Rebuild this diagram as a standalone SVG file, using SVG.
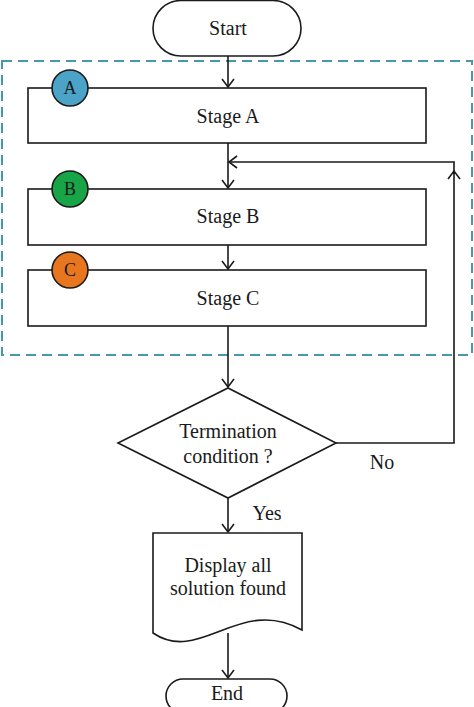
<svg xmlns="http://www.w3.org/2000/svg" width="474" height="707" viewBox="0 0 474 707">
<style>
.box{fill:#fff;stroke:#1a1a1a;stroke-width:1.6}
.t{font-family:"Liberation Serif","Times New Roman",serif;font-size:20px;fill:#1a1a1a;text-anchor:middle}
.ct{font-family:"Liberation Serif","Times New Roman",serif;font-size:18px;fill:#1a1a1a;text-anchor:middle}
.badge{stroke:#1a1a1a;stroke-width:1.6}
.ln{fill:none;stroke:#1a1a1a;stroke-width:1.6}
</style>
<defs>
<marker id="arr" viewBox="-10 -8 12 16" markerWidth="12" markerHeight="16" refX="0" refY="0" orient="auto" markerUnits="userSpaceOnUse">
<path d="M-8,-6 L0,0 L-8,6" fill="none" stroke="#1a1a1a" stroke-width="1.6"/>
</marker>
</defs>
<rect x="2" y="61" width="470" height="294" fill="none" stroke="#4a97a6" stroke-width="2" stroke-dasharray="10 6"/>
<g id="connectors">
<path class="ln" d="M228,56 V87" marker-end="url(#arr)"/>
<path class="ln" d="M228,143 V188" marker-end="url(#arr)"/>
<path class="ln" d="M228,245 V269" marker-end="url(#arr)"/>
<path class="ln" d="M228,326 V387" marker-end="url(#arr)"/>
<path class="ln" d="M336,443 H454 V171" marker-end="url(#arr)"/>
<path class="ln" d="M454,174 V162 H229" marker-end="url(#arr)"/>
<path class="ln" d="M228,498 V532" marker-end="url(#arr)"/>
<path class="ln" d="M228,633 V678" marker-end="url(#arr)"/>
</g>
<g id="start">
<rect class="box" x="153" y="0.5" width="148" height="55.5" rx="28"/>
<text class="t" x="228" y="35">Start</text>
</g>
<g id="stageA">
<rect class="box" x="28" y="88" width="398" height="55"/>
<circle class="badge" cx="70" cy="88" r="18" fill="#4ba3c7"/>
<text class="ct" x="70" y="94">A</text>
<text class="t" x="228" y="123">Stage A</text>
</g>
<g id="stageB">
<rect class="box" x="28" y="189" width="398" height="56"/>
<circle class="badge" cx="70" cy="189" r="18" fill="#17a548"/>
<text class="ct" x="70" y="195">B</text>
<text class="t" x="228" y="223">Stage B</text>
</g>
<g id="stageC">
<rect class="box" x="28" y="270" width="398" height="56"/>
<circle class="badge" cx="70" cy="270" r="18" fill="#e8761f"/>
<text class="ct" x="70" y="276">C</text>
<text class="t" x="228" y="305">Stage C</text>
</g>
<g id="decision">
<path class="box" d="M228,388 L336,443 L228,498 L118,443 Z"/>
<text class="t" x="228" y="438">Termination</text>
<text class="t" x="228" y="463">condition ?</text>
</g>
<text class="t" x="382" y="469">No</text>
<text class="t" x="267" y="520">Yes</text>
<g id="display">
<path class="box" d="M153,533 H302 V630 C240,595 200,665 153,633 Z"/>
<text class="t" x="228" y="572">Display all</text>
<text class="t" x="228" y="595">solution found</text>
</g>
<g id="end">
<rect class="box" x="166" y="679" width="121" height="34" rx="17"/>
<text class="t" x="227" y="700">End</text>
</g>
</svg>
